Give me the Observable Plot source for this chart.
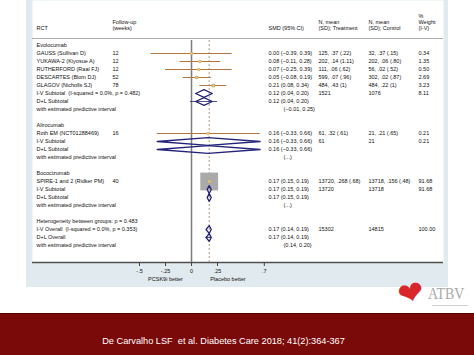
<!DOCTYPE html>
<html><head><meta charset="utf-8">
<script src="https://cdn.jsdelivr.net/npm/d3@7"></script>
<script src="https://cdn.jsdelivr.net/npm/@observablehq/plot@0.6"></script>
<style>
html,body{margin:0;padding:0;background:#fff;}
#wrap{position:relative;width:474px;height:355px;overflow:hidden;font-family:"Liberation Sans",Arial,sans-serif;}
#panel{position:absolute;left:26px;top:0;width:422px;height:287px;background:#e1eaee;}
#chart{position:absolute;left:0;top:0;}
#banner{position:absolute;left:0;top:313px;width:474px;height:42px;background:#7a0a0a;border-top:1px solid #5a0000;box-sizing:border-box;}
#cite{position:absolute;left:0;width:447px;top:336px;text-align:center;color:#fff;font-size:9.2px;line-height:10px;white-space:nowrap;}
#heart{position:absolute;left:398px;top:276px;color:#d8262b;font-size:31px;line-height:34px;font-family:"DejaVu Sans";transform:rotate(-14deg);}
#logo{position:absolute;left:428px;top:285px;color:#a9a9a9;font-family:"Liberation Serif",serif;font-size:17px;line-height:18px;transform:scaleX(0.82);transform-origin:left top;}
#logoline{position:absolute;left:432px;top:305px;width:36px;height:1px;background:#cfcfcf;}
</style></head>
<body>
<div id="wrap">
  <div id="panel"></div>
  <div id="chart"></div>
  <div id="heart">❤</div>
  <div id="logo">ATBV</div>
  <div id="logoline"></div>
  <div id="banner"></div>
  <div id="cite">De Carvalho LSF&nbsp; et al. Diabetes Care 2018; 41(2):364-367</div>
</div>
<script>
// ---------- data ----------
const groupNames = ["Evolocumab", "Alirocumab", "Bococizumab"];
const studyNames = ["GAUSS (Sullivan D)", "YUKAWA-2 (Kiyosue A)", "RUTHERFORD (Raal FJ)", "DESCARTES (Blom DJ)", "GLAGOV (Nicholls SJ)", "Roth EM (NCT01288469)", "SPIRE-1 and 2 (Ridker PM)"];
const studyGroup = [0, 0, 0, 0, 0, 1, 2];
const studyWeeks = [12, 12, 12, 52, 78, 16, 40];
const studySMD = [0.00, 0.08, 0.07, 0.05, 0.21, 0.16, 0.17];
const studyLo = [-0.39, -0.11, -0.25, -0.08, 0.08, -0.33, 0.15];
const studyHi = [0.39, 0.28, 0.39, 0.19, 0.34, 0.66, 0.19];
const studyTreat = ["125, .37 (.22)", "202, .14 (1.11)", "111, .06 (.62)", "599, .07 (.96)", "484, .43 (1)", "61, .32 (.61)", "13720, .268 (.68)"];
const studyControl = ["32, .37 (.15)", "202, .06 (.80)", "56, .02 (.52)", "302, .02 (.87)", "484, .22 (1)", "21, .21 (.65)", "13718, .156 (.48)"];
const studyWeight = [0.34, 1.35, 0.50, 2.69, 3.23, 0.21, 91.68];

const groupHet = ["(I-squared = 0.0%, p = 0.482)", "", ""];
const groupSMD = [0.12, 0.16, 0.17];
const groupLo = [0.04, -0.33, 0.15];
const groupHi = [0.20, 0.66, 0.19];
const groupPredLo = [-0.01, null, null];
const groupPredHi = [0.25, null, null];
const groupTreatN = [1521, 61, 13720];
const groupControlN = [1076, 21, 13718];
const groupWeight = [8.11, 0.21, 91.68];

const betweenP = "0.483";
const overallHet = "(I-squared = 0.0%, p = 0.353)";
const overallSMD = 0.17, overallLo = 0.14, overallHi = 0.19;
const overallPredLo = 0.14, overallPredHi = 0.20;
const overallTreatN = 15302, overallControlN = 14815, overallWeight = 100.00;

const headers = ["RCT", "Follow-up\n(weeks)", "SMD (95% CI)", "N, mean\n(SD); Treatment", "N, mean\n(SD); Control", "%\nWeight\n(I-V)"];
const tickValues = [-0.5, -0.25, 0, 0.25, 0.7];
const tickLabels = ["-.5", "-.25", "0", ".25", ".7"];
const sideLabels = ["PCSK9i better", "Placebo better"];

// ---------- build rows ----------
const f2 = d3.format(".2f");
const ci = (e, l, h) => `${f2(e)} (${f2(l)}, ${f2(h)})`;
const rows = [];
const studies = [], diamonds = [], preds = [];
let r = 0;
groupNames.forEach((g, gi) => {
  rows.push({row: r++, label: g});
  studyNames.forEach((s, si) => {
    if (studyGroup[si] !== gi) return;
    const o = {row: r++, label: s, weeks: String(studyWeeks[si]), smd: ci(studySMD[si], studyLo[si], studyHi[si]),
      treat: studyTreat[si], control: studyControl[si], weight: f2(studyWeight[si]),
      est: studySMD[si], lo: studyLo[si], hi: studyHi[si], w: studyWeight[si]};
    rows.push(o); studies.push(o);
  });
  const iv = {row: r++, label: "I-V Subtotal  " + groupHet[gi], smd: ci(groupSMD[gi], groupLo[gi], groupHi[gi]),
    treat: String(groupTreatN[gi]), control: String(groupControlN[gi]), weight: f2(groupWeight[gi]),
    est: groupSMD[gi], lo: groupLo[gi], hi: groupHi[gi]};
  const dl = {row: r++, label: "D+L Subtotal", smd: ci(groupSMD[gi], groupLo[gi], groupHi[gi]),
    est: groupSMD[gi], lo: groupLo[gi], hi: groupHi[gi]};
  rows.push(iv, dl); diamonds.push(iv, dl);
  const hasPred = groupPredLo[gi] != null;
  rows.push({row: r++, label: "with estimated predictive interval",
    pred: hasPred ? `(${f2(groupPredLo[gi])}, ${f2(groupPredHi[gi])})` : "(...)"});
  if (hasPred) preds.push({row: dl.row, lo: groupPredLo[gi], hi: groupPredHi[gi]});
  r++;
});
rows.push({row: r++, label: "Heterogeneity between groups: p = " + betweenP});
const ivo = {row: r++, label: "I-V Overall  " + overallHet, smd: ci(overallSMD, overallLo, overallHi),
  treat: String(overallTreatN), control: String(overallControlN), weight: f2(overallWeight),
  est: overallSMD, lo: overallLo, hi: overallHi};
const dlo = {row: r++, label: "D+L Overall", smd: ci(overallSMD, overallLo, overallHi), est: overallSMD, lo: overallLo, hi: overallHi};
rows.push(ivo, dlo); diamonds.push(ivo, dlo);
rows.push({row: r++, label: "with estimated predictive interval", pred: `(${f2(overallPredLo)}, ${f2(overallPredHi)})`});
preds.push({row: dlo.row, lo: overallPredLo, hi: overallPredHi});

const halfH = 0.48;
const diamondPts = diamonds.flatMap((d, i) => [
  {id: i, x: d.lo, y: d.row}, {id: i, x: d.est, y: d.row - halfH},
  {id: i, x: d.hi, y: d.row}, {id: i, x: d.est, y: d.row + halfH}, {id: i, x: d.lo, y: d.row}]);

const topRow = -5.625, axisRow = r + 1.125, headRule = -0.875;
const tickMap = new Map(tickValues.map((v, i) => [v, tickLabels[i]]));
const midL = (tickValues[0] + 0) / 2, midR = (0 + tickValues[tickValues.length - 1]) / 2;

const FS = 5.5, TXT = "#111";
const col = (key, dx, extra = {}) => Plot.text(rows.filter(d => d[key] != null), {
  y: "row", text: key, frameAnchor: "left", dx, textAnchor: "start", fontSize: FS, fill: TXT, ...extra});
const headerCol = (i, dx) => Plot.text([headers[i]], {y: [-1.9], text: d => d, frameAnchor: "left", dx,
  textAnchor: "start", lineAnchor: "bottom", fontSize: FS, fill: TXT, lineHeight: 1.1});

const chart = Plot.plot({
  width: 474, height: 287,
  marginLeft: 32, marginRight: 31, marginTop: 0, marginBottom: 25,
  x: {domain: [-1.529, 2.423]},
  y: {domain: [topRow, axisRow], reverse: true, axis: null},
  r: {type: "sqrt", domain: [0, 100], range: [0, 10.5]},
  style: {background: "transparent", fontFamily: "'Liberation Sans', Arial, sans-serif", color: TXT},
  marks: [
    Plot.frame({fill: "white", stroke: null}),
    Plot.ruleY([headRule], {stroke: "#9a9a9a", strokeWidth: 0.8}),
    Plot.ruleY([axisRow], {stroke: "#505050", strokeWidth: 1.4}),
    Plot.axisX({ticks: tickValues, tickFormat: d => tickMap.get(d), tickSize: 4, tickPadding: 2.5, fontSize: FS, anchor: "bottom", stroke: "#444", color: TXT}),
    Plot.text(sideLabels, {x: [midL, midR], text: d => d, frameAnchor: "bottom", dy: 18, fontSize: FS, fill: TXT}),
    Plot.ruleX([0], {y1: headRule + 0.25, y2: axisRow, stroke: "#7a7a7a", strokeWidth: 1.5}),
    Plot.ruleX([overallSMD], {y1: headRule + 0.25, y2: axisRow, stroke: "#a89078", strokeWidth: 0.9, strokeDasharray: "2,2"}),
    Plot.ruleY(studies, {y: "row", x1: "lo", x2: "hi", stroke: "#b5733d", strokeWidth: 1}),
    Plot.dot(studies, {x: "est", y: "row", r: "w", symbol: "square", fill: "#aaaaaa"}),
    Plot.dot(studies, {x: "est", y: "row", r: 1.3, stroke: "#d6a23a", strokeWidth: 0.7, fill: "#f0d890"}),
    Plot.ruleY(preds, {y: "row", x1: "lo", x2: "hi", stroke: "#23237a", strokeWidth: 0.8}),
    Plot.line(diamondPts, {x: "x", y: "y", z: "id", stroke: "#23237a", strokeWidth: 1.3, curve: "linear"}),
    col("label", 4), col("weeks", 80), col("smd", 236), col("pred", 251),
    col("treat", 286), col("control", 336), col("weight", 386),
    headerCol(0, 4), headerCol(1, 80), headerCol(2, 236), headerCol(3, 286), headerCol(4, 336), headerCol(5, 386)
  ]
});
document.getElementById("chart").appendChild(chart);
</script>
</body></html>
